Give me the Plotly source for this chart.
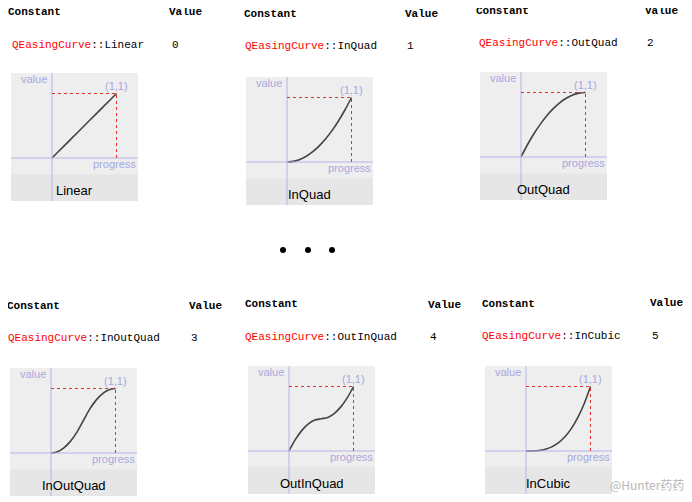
import plotly.graph_objects as go

W, H = 692, 502
progress = [0, .1, .2, .3, .4, .5, .6, .7, .8, .9, 1]
names = ["Linear", "InQuad", "OutQuad", "InOutQuad", "OutInQuad", "InCubic"]
codes = ["0", "1", "2", "3", "4", "5"]
curves = [
    [0, .1, .2, .3, .4, .5, .6, .7, .8, .9, 1],
    [0, .01, .04, .09, .16, .25, .36, .49, .64, .81, 1],
    [0, .19, .36, .51, .64, .75, .84, .91, .96, .99, 1],
    [0, .02, .08, .18, .32, .5, .68, .82, .92, .98, 1],
    [0, .18, .32, .42, .48, .5, .52, .58, .68, .82, 1],
    [0, .001, .008, .027, .064, .125, .216, .343, .512, .729, 1],
]
boxes = [(11, 73), (246, 77), (480, 72), (10, 368), (248, 366), (485, 366)]
headers = [
    ((6, 12), (167, 12), (10, 45), (170, 45)),
    ((242, 14), (403, 14), (243, 46), (405, 46)),
    ((474, 11), (643, 11), (477, 43), (645, 43)),
    ((5, 306), (187, 306), (6, 338), (189, 338)),
    ((243, 304), (426, 305), (243, 337), (428, 337)),
    ((480, 304), (648, 303), (480, 336), (650, 336)),
]
BW, BH, OX, OY, U = 127, 128, 41, 43, 64.5
DX, DY = 8, 8  # page offset

def px(x): return (x - DX) / W
def py(y): return 1 - (y - DY) / H

fig = go.Figure()
shapes, anns = [], []
mono = "Liberation Mono, DejaVu Sans Mono, monospace"
lab = "#a8a8e0"
for i, (bx, by) in enumerate(boxes):
    k = "" if i == 0 else str(i + 1)
    xr = [-OX / U, (BW - OX) / U]
    yr = [-OY / U, (BH - OY) / U]
    fig.add_trace(go.Scatter(x=progress, y=curves[i], mode="lines", line=dict(color="#444", width=1.6, shape="spline"),
                             xaxis="x" + k, yaxis="y" + k, showlegend=False, hoverinfo="skip"))
    fig.update_layout(**{
        "xaxis" + k: dict(domain=[px(bx), px(bx + BW)], range=xr, visible=False, anchor="y" + k),
        "yaxis" + k: dict(domain=[py(by + BH), py(by)], range=yr, visible=False, anchor="x" + k),
    })
    xa, ya = "x" + k, "y" + k
    shapes += [
        dict(type="rect", xref=xa, yref=ya, x0=xr[0], x1=xr[1], y0=yr[0], y1=yr[1], fillcolor="#eeeeee", line_width=0, layer="below"),
        dict(type="rect", xref=xa, yref=ya, x0=xr[0], x1=xr[1], y0=yr[0], y1=-0.25, fillcolor="#e6e6e6", line_width=0, layer="below"),
        dict(type="line", xref=xa, yref=ya, x0=xr[0], x1=xr[1], y0=0, y1=0, line=dict(color="#b4b4e8", width=1)),
        dict(type="line", xref=xa, yref=ya, x0=0, x1=0, y0=yr[0], y1=yr[1], line=dict(color="#b4b4e8", width=1)),
        dict(type="line", xref=xa, yref=ya, x0=0, x1=1, y0=1, y1=1, line=dict(color="#e03030", width=1, dash="dot")),
        dict(type="line", xref=xa, yref=ya, x0=1, x1=1, y0=0, y1=1, line=dict(color="#e03030", width=1, dash="dot")),
    ]
    anns += [
        dict(xref=xa, yref=ya, x=-0.05, y=1.22, text="value", showarrow=False, xanchor="right", font=dict(color=lab, size=11, family="Liberation Sans")),
        dict(xref=xa, yref=ya, x=1.0, y=1.12, text="(1,1)", showarrow=False, xanchor="center", font=dict(color=lab, size=11, family="Liberation Sans")),
        dict(xref=xa, yref=ya, x=xr[1], y=-0.1, text="progress", showarrow=False, xanchor="right", font=dict(color=lab, size=11, family="Liberation Sans")),
        dict(xref=xa, yref=ya, x=0.35, y=-0.5, text=names[i], showarrow=False, xanchor="center", font=dict(color="#000", size=13, family="Liberation Sans")),
    ]
    (cx, cy), (vx, vy), (nx, ny), (kx, ky) = headers[i]
    for (x, y, t, f) in [(cx, cy, "<b>Constant</b>", mono), (vx, vy, "<b>Value</b>", mono),
                         (nx, ny, "<span style='color:#ff0000'>QEasingCurve</span>::" + names[i], mono), (kx, ky, codes[i], mono)]:
        anns.append(dict(xref="paper", yref="paper", x=px(x), y=py(y), text=t, showarrow=False,
                         xanchor="left", yanchor="middle", font=dict(color="#000", size=11, family=f)))

for x in [283, 308, 332]:
    shapes.append(dict(type="circle", xref="paper", yref="paper", x0=px(x - 3), x1=px(x + 3), y0=py(253), y1=py(247), fillcolor="#000", line_width=0))
anns.append(dict(xref="paper", yref="paper", x=px(686), y=py(484), xanchor="right", yanchor="middle", text="@Hunter药药", showarrow=False,
                 font=dict(color="#999", size=12, family="Noto Sans CJK SC"), opacity=0.7))

fig.update_layout(width=W, height=H, margin=dict(l=0, r=0, t=0, b=0), paper_bgcolor="white", plot_bgcolor="white",
                  shapes=shapes, annotations=anns)
fig.write_html("out.html")
